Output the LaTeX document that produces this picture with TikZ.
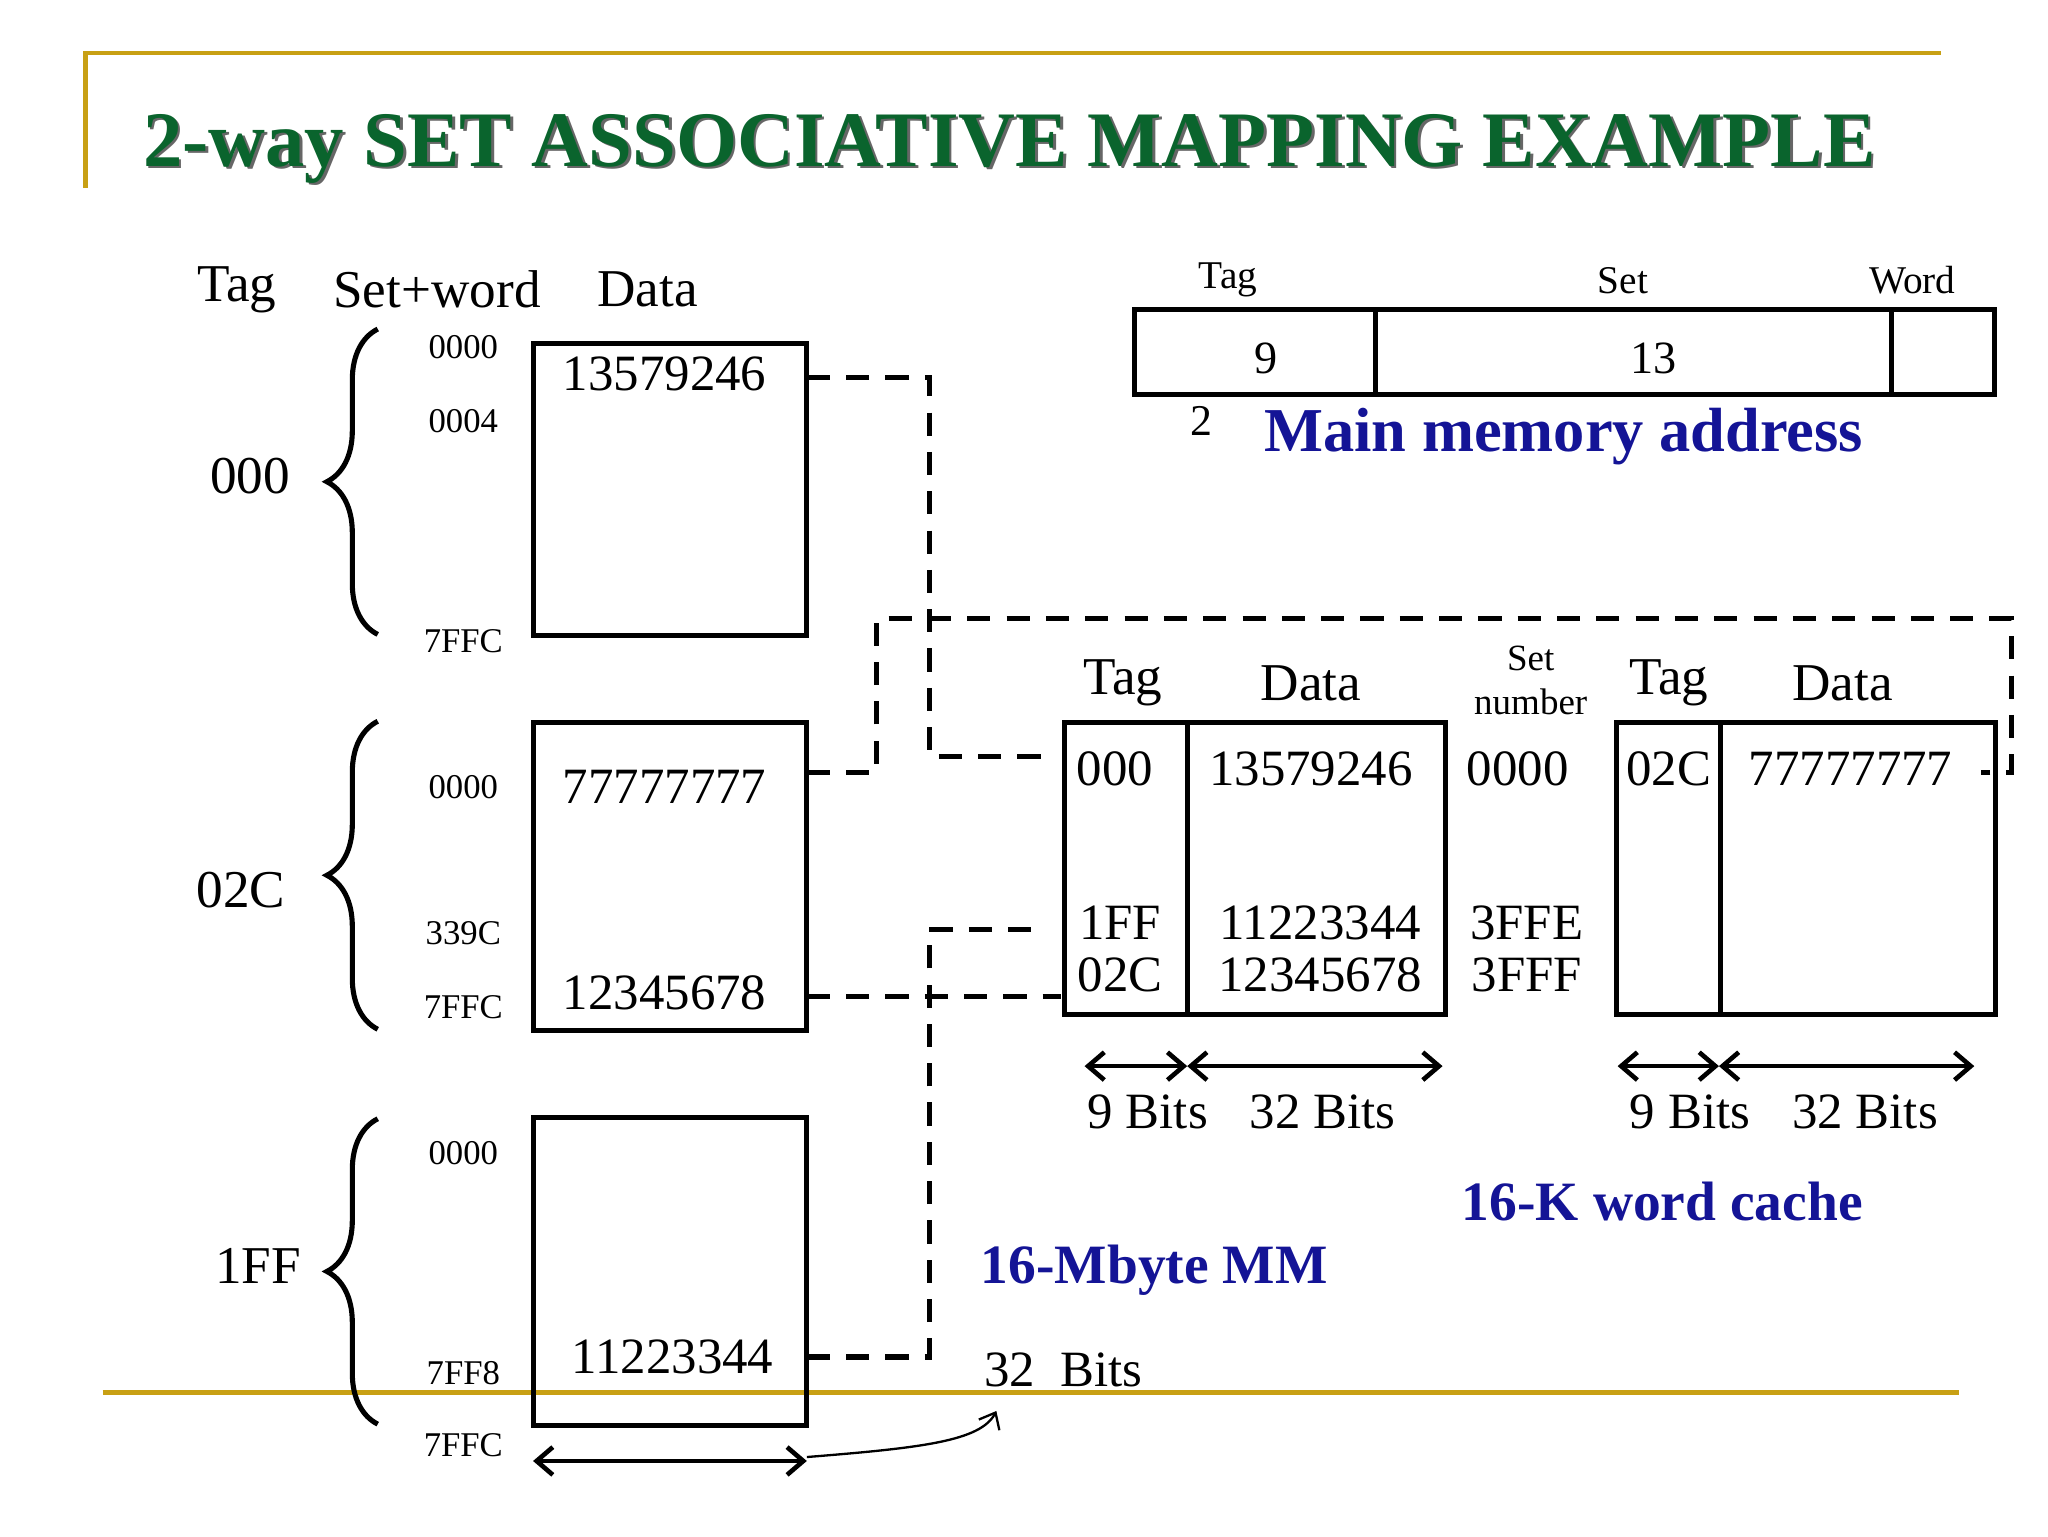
\documentclass[tikz,border=0pt]{standalone}
\usepackage{fontspec}
\setmainfont{Liberation Serif}
\usetikzlibrary{arrows.meta,decorations.pathreplacing}
\definecolor{gold}{RGB}{200,160,20}
\definecolor{tgreen}{RGB}{10,100,45}
\definecolor{dblue}{RGB}{20,20,150}
\begin{document}
\begin{tikzpicture}[x=0.02cm,y=-0.02cm,
  box/.style={draw,line width=2.2pt},
  dsh/.style={line width=2.2pt,dash pattern=on 10pt off 7pt},
  hdr/.style={font=\fontsize{23}{23}\selectfont},
  dat/.style={font=\fontsize{22}{22}\selectfont},
  sm/.style={font=\fontsize{15}{15}\selectfont},
  blu/.style={text=dblue,font=\fontsize{24}{24}\selectfont\bfseries},
  dbl/.style={line width=2pt,{Straight Barb[length=7pt,width=12pt]}-{Straight Barb[length=7pt,width=12pt]}},
  brc/.style={decorate,decoration={brace,amplitude=22pt},line width=2.2pt}]
\useasboundingbox (0,0) rectangle (1556,1167);
\draw[gold,line width=1.8pt] (65,143) -- (65,40) -- (1475,40);
\draw[gold,line width=1.8pt] (78,1058) -- (1488,1058);
\node[text=black!60,font=\fontsize{34}{34}\selectfont\bfseries] at (769,115) {2-way SET ASSOCIATIVE MAPPING EXAMPLE};
\node (title)[text=tgreen,font=\fontsize{34}{34}\selectfont\bfseries] at (767,113) {2-way SET ASSOCIATIVE MAPPING EXAMPLE};
% headers
\node (h1)[hdr] at (180,220) {Tag};
\node (h2)[hdr] at (332,220) {Set+word};
\node (h3)[hdr] at (492,220) {Data};
% MM boxes
\draw[box] (405,261) rectangle (613,483);
\draw[box] (405,549) rectangle (613,783);
\draw[box] (405,849) rectangle (613,1083);
\draw[brc] (287,482) -- (287,250);
\draw[brc] (287,782) -- (287,548);
\draw[brc] (287,1082) -- (287,850);
\node (t1)[hdr] at (190,362) {000};
\node (t2)[hdr] at (183,676) {02C};
\node (t3)[hdr] at (196,962) {1FF};
\foreach \y/\t [count=\i] in {264/0000,320/0004,487/7FFC,598/0000,709/339C,765/7FFC,876/0000,1043/7FF8,1098/7FFC}
  \node (a\i)[sm] at (352,\y) {\t};
\node (d1)[dat] at (505,284) {13579246};
\node (d2)[dat] at (505,598) {77777777};
\node (d3)[dat] at (505,754) {12345678};
\node (d4)[dat] at (511,1031) {11223344};
% address
\draw[box] (862,235) rectangle (1515,300);
\draw[line width=2.2pt] (1045,235) -- (1045,300) (1437,235) -- (1437,300);
\node (f1)[sm,font=\fontsize{17}{17}\selectfont] at (933,213) {Tag};
\node (f2)[sm,font=\fontsize{17}{17}\selectfont] at (1233,213) {Set};
\node (f3)[sm,font=\fontsize{17}{17}\selectfont] at (1453,213) {Word};
\node (f4)[dat,font=\fontsize{20}{20}\selectfont] at (962,272) {9};
\node (f5)[dat,font=\fontsize{20}{20}\selectfont] at (1256,272) {13};
\node (f6)[dat,font=\fontsize{19}{19}\selectfont] at (913,320) {2};
\node (mma)[blu,font=\fontsize{27}{27}\selectfont\bfseries] at (1188,332) {Main memory address};
% cache
\draw[box] (809,549) rectangle (1098,771);
\draw[line width=2.2pt] (902,549) -- (902,771);
\draw[box] (1228,549) rectangle (1516,771);
\draw[line width=2.2pt] (1307,549) -- (1307,771);
\node (c1)[hdr] at (853,519) {Tag};
\node (c2)[hdr] at (996,519) {Data};
\node (c3)[hdr] at (1268,519) {Tag};
\node (c4)[hdr] at (1400,519) {Data};
\node (sn)[sm,align=center,font=\fontsize{16}{19}\selectfont] at (1163,517) {Set\\number};
\node (e1)[dat] at (847,584) {000};
\node (e2)[dat] at (996,584) {13579246};
\node (e3)[dat] at (851,701) {1FF};
\node (e4)[dat] at (1003,701) {11223344};
\node (e5)[dat] at (851,741) {02C};
\node (e6)[dat] at (1003,741) {12345678};
\node (s1)[dat] at (1153,584) {0000};
\node (s2)[dat] at (1160,701) {3FFE};
\node (s3)[dat] at (1160,741) {3FFF};
\node (e7)[dat] at (1268,584) {02C};
\node (e8)[dat] at (1406,584) {77777777};
% bit arrows
\draw[dbl] (824,810) -- (902,810);
\draw[dbl] (902,810) -- (1096,810);
\draw[dbl] (1229,810) -- (1306,810);
\draw[dbl] (1306,810) -- (1500,810);
\node (b1)[dat] at (872,845) {9 Bits};
\node (b2)[dat] at (1005,845) {32 Bits};
\node (b3)[dat] at (1284,845) {9 Bits};
\node (b4)[dat] at (1417,845) {32 Bits};
\node (kc)[blu] at (1263,913) {16-K word cache};
\node (mb)[blu] at (877,965) {16-Mbyte MM};
\node (b32)[dat] at (808,1041) {32\ \ Bits};
\coordinate (ct) at (757,1072);
\draw[dbl] (405,1110) -- (613,1110);
\draw[line width=1pt,-{Straight Barb[length=6pt,width=10pt]}] (613,1107) .. controls (700,1100) and (745,1095) .. (ct);
% dashed
\draw[dsh] (613,287) -- (706,287) -- (706,575) -- (795,575);
\draw[dsh] (613,587) -- (666,587) -- (666,470) -- (1528,470) -- (1528,587) -- (1505,587);
\draw[dsh] (613,757) -- (806,757);
\draw[dsh] (613,1031) -- (706,1031) -- (706,706) -- (795,706);
\end{tikzpicture}
\end{document}
